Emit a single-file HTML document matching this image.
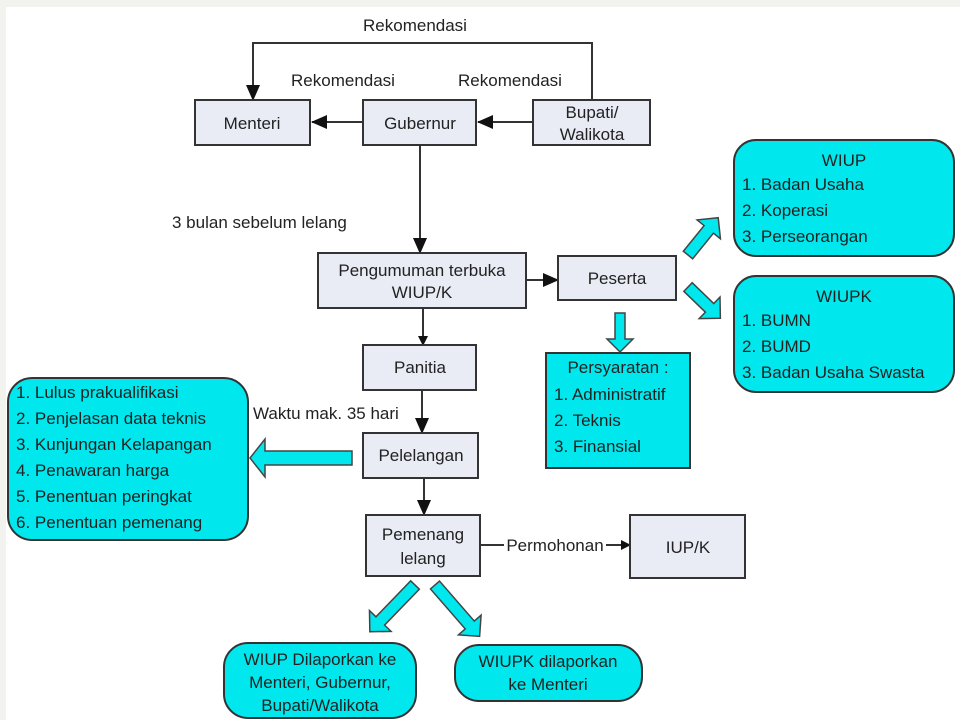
<!DOCTYPE html>
<html><head><meta charset="utf-8"><style>
html,body{margin:0;padding:0;background:#fff;}
svg{display:block;font-family:"Liberation Sans",sans-serif;}
text{fill:#222;font-size:17px;}
</style></head><body>
<svg width="960" height="720" viewBox="0 0 960 720">
<defs>
<marker id="ah" markerWidth="10" markerHeight="10" refX="9" refY="5" orient="auto" markerUnits="userSpaceOnUse"><path d="M0,0 L10,5 L0,10 z" fill="#111"/></marker>
<marker id="ah2" markerWidth="16" markerHeight="14" refX="15" refY="7" orient="auto" markerUnits="userSpaceOnUse"><path d="M0,0 L16,7 L0,14 z" fill="#111"/></marker>
</defs>
<rect x="0" y="0" width="960" height="720" fill="#fff"/>
<rect x="0" y="0" width="960" height="7" fill="#f2f2ee"/>
<rect x="0" y="0" width="6" height="720" fill="#f2f2ee"/>
<g stroke="#333" stroke-width="2" fill="none">
<polyline points="592,100 592,43 253,43 253,100" marker-end="url(#ah2)"/>
<line x1="363" y1="122" x2="312" y2="122" marker-end="url(#ah2)"/>
<line x1="533" y1="122" x2="478" y2="122" marker-end="url(#ah2)"/>
<line x1="420" y1="145" x2="420" y2="253" marker-end="url(#ah2)"/>
<line x1="526" y1="280" x2="558" y2="280" marker-end="url(#ah2)"/>
<line x1="423" y1="308" x2="423" y2="345" marker-end="url(#ah)"/>
<line x1="422" y1="390" x2="422" y2="433" marker-end="url(#ah2)"/>
<line x1="424" y1="478" x2="424" y2="515" marker-end="url(#ah2)"/>
<line x1="480" y1="545" x2="504" y2="545"/>
<line x1="606" y1="545" x2="630" y2="545" marker-end="url(#ah)"/>
</g>
<g fill="#e9ecf5" stroke="#333" stroke-width="2">
<rect x="195" y="100" width="115" height="45"/>
<rect x="363" y="100" width="113" height="45"/>
<rect x="533" y="100" width="117" height="45"/>
<rect x="318" y="253" width="208" height="55"/>
<rect x="558" y="256" width="118" height="44"/>
<rect x="363" y="345" width="113" height="45"/>
<rect x="363" y="433" width="115" height="45"/>
<rect x="366" y="515" width="114" height="61"/>
<rect x="630" y="515" width="115" height="63"/>
</g>
<g fill="#00e8ee" stroke="#333" stroke-width="2">
<rect x="734" y="140" width="220" height="116" rx="22"/>
<rect x="734" y="276" width="220" height="116" rx="22"/>
<rect x="546" y="353" width="144" height="115"/>
<rect x="8" y="378" width="240" height="162" rx="24"/>
<rect x="224" y="643" width="192" height="75" rx="24"/>
<rect x="455" y="645" width="187" height="56" rx="24"/>
</g>
<g fill="#00e8ee" stroke="#444" stroke-width="1.5">
<path transform="translate(352,458) rotate(180)" d="M0,-7 L87,-7 L87,-19 L102,0 L87,19 L87,7 L0,7 Z"/>
<path transform="translate(620,313) rotate(90)" d="M0,-5 L26,-5 L26,-13 L39,0 L26,13 L26,5 L0,5 Z"/>
<path transform="translate(688,255) rotate(-51)" d="M0,-6 L33,-6 L33,-15 L48,0 L33,15 L33,6 L0,6 Z"/>
<path transform="translate(688,287) rotate(44)" d="M0,-6 L30,-6 L30,-15 L45,0 L30,15 L30,6 L0,6 Z"/>
<path transform="translate(415,585) rotate(134)" d="M0,-6 L50,-6 L50,-15 L65,0 L50,15 L50,6 L0,6 Z"/>
<path transform="translate(435,585) rotate(49)" d="M0,-6 L53,-6 L53,-15 L68,0 L53,15 L53,6 L0,6 Z"/>
</g>
<g text-anchor="middle">
<text x="415" y="31">Rekomendasi</text>
<text x="343" y="86">Rekomendasi</text>
<text x="510" y="86">Rekomendasi</text>
<text x="252" y="129">Menteri</text>
<text x="420" y="129">Gubernur</text>
<text x="592" y="118">Bupati/</text>
<text x="592" y="140">Walikota</text>
<text x="422" y="276">Pengumuman terbuka</text>
<text x="422" y="298">WIUP/K</text>
<text x="617" y="284">Peserta</text>
<text x="420" y="373">Panitia</text>
<text x="421" y="461">Pelelangan</text>
<text x="423" y="540">Pemenang</text>
<text x="423" y="564">lelang</text>
<text x="555" y="551">Permohonan</text>
<text x="688" y="553">IUP/K</text>
<text x="844" y="166">WIUP</text>
<text x="844" y="302">WIUPK</text>
<text x="618" y="373">Persyaratan :</text>
<text x="320" y="665">WIUP Dilaporkan ke</text>
<text x="320" y="688">Menteri, Gubernur,</text>
<text x="320" y="711">Bupati/Walikota</text>
<text x="548" y="667">WIUPK dilaporkan</text>
<text x="548" y="690">ke Menteri</text>
</g>
<text x="172" y="228">3 bulan sebelum lelang</text>
<text x="253" y="419">Waktu mak. 35 hari</text>
<text x="742" y="190">1. Badan Usaha</text>
<text x="742" y="216">2. Koperasi</text>
<text x="742" y="242">3. Perseorangan</text>
<text x="742" y="326">1. BUMN</text>
<text x="742" y="352">2. BUMD</text>
<text x="742" y="378">3. Badan Usaha Swasta</text>
<text x="554" y="400">1. Administratif</text>
<text x="554" y="426">2. Teknis</text>
<text x="554" y="452">3. Finansial</text>
<text x="16" y="398">1. Lulus prakualifikasi</text>
<text x="16" y="424">2. Penjelasan data teknis</text>
<text x="16" y="450">3. Kunjungan Kelapangan</text>
<text x="16" y="476">4. Penawaran harga</text>
<text x="16" y="502">5. Penentuan peringkat</text>
<text x="16" y="528">6. Penentuan pemenang</text>
</svg>
</body></html>
